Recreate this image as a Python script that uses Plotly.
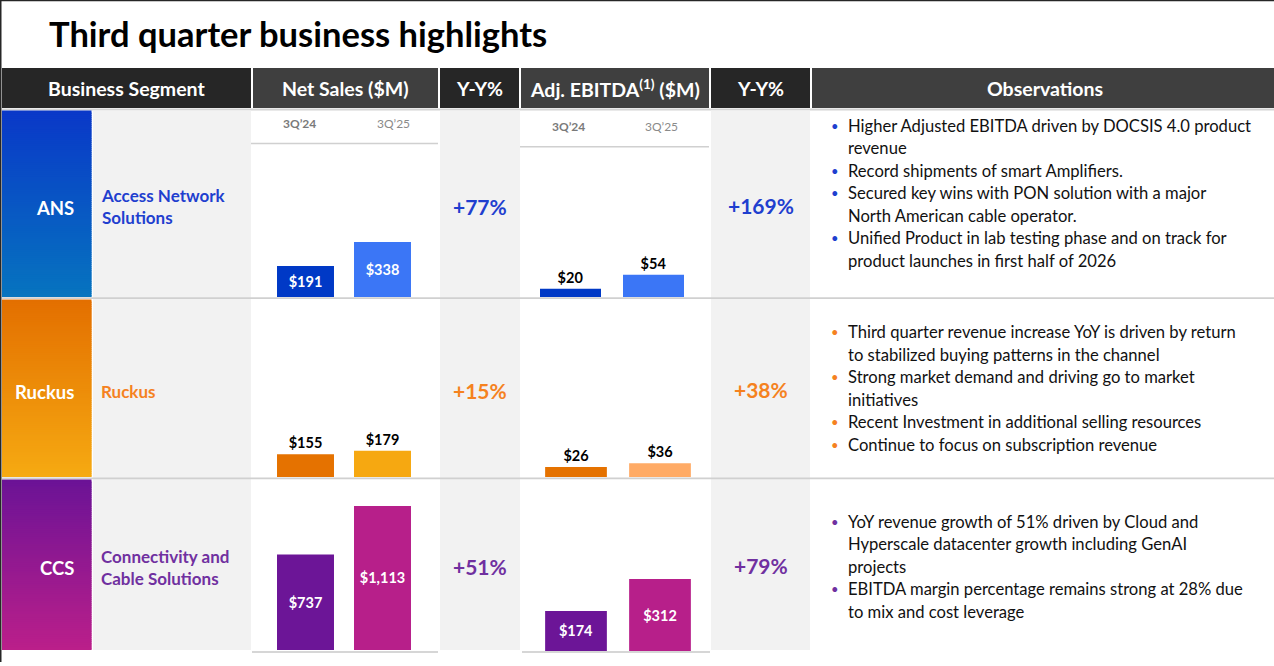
import plotly.graph_objects as go

# ---------------- data ----------------
segments = ["ANS", "Ruckus", "CCS"]
segment_names = ["Access Network<br>Solutions", "Ruckus", "Connectivity and<br>Cable Solutions"]
periods = ["3Q’24", "3Q’25"]
net_sales_3q24 = [191, 155, 737]
net_sales_3q25 = [338, 179, 1113]
ebitda_3q24 = [20, 26, 174]
ebitda_3q25 = [54, 36, 312]
net_sales_yoy = ["+77%", "+15%", "+51%"]
ebitda_yoy = ["+169%", "+38%", "+79%"]
headers = ["Business Segment", "Net Sales ($M)", "Y-Y%", "Adj. EBITDA<sup>(1)</sup> ($M)", "Y-Y%", "Observations"]
title_text = "Third quarter business highlights"
observations = [
    [["Higher Adjusted EBITDA driven by DOCSIS 4.0 product", "revenue"],
     ["Record shipments of smart Amplifiers."],
     ["Secured key wins with PON solution with a major", "North American cable operator."],
     ["Unified Product in lab testing phase and on track for", "product launches in first half of 2026"]],
    [["Third quarter revenue increase YoY is driven by return", "to stabilized buying patterns in the channel"],
     ["Strong market demand and driving go to market", "initiatives"],
     ["Recent Investment in additional selling resources"],
     ["Continue to focus on subscription revenue"]],
    [["YoY revenue growth of 51% driven by Cloud and", "Hyperscale datacenter growth including GenAI", "projects"],
     ["EBITDA margin percentage remains strong at 28% due", "to mix and cost leverage"]],
]

# ---------------- style ----------------
W, H = 1274, 666
FONT = "Lato"
seg_text_colors = ["#1f3fcf", "#f5821f", "#7030a0"]
grad_top = ["#0a38c8", "#e36f00", "#6b1396"]
grad_bot = ["#0674bf", "#f6aa12", "#bb1f8a"]
sales_colors = [["#0039c6", "#3b76f6"], ["#e57200", "#f6a811"], ["#6c1597", "#b71f8a"]]
ebitda_colors = [["#0039c6", "#3b76f6"], ["#e57200", "#ffab66"], ["#6c1597", "#b71f8a"]]
row_tops = [110, 299, 479]
row_bots = [297, 477, 650]
row_mid = [207, 391, 567]
sales_text_pos = ["inside", "outside", "inside"]
ebitda_text_pos = ["outside", "outside", "inside"]
sales_ranges = [905, 1204, 1313]
ebitda_ranges = [358, 466, 742]
obs_start_y = [126, 332.3, 521.7]
LINE_H = 22.45
LPAD = 3  # annotation left padding correction


def px(x):
    return x / W


def py(y):
    return 1 - y / H


shapes = []


def rect(x0, y0, x1, y1, color):
    shapes.append(dict(type="rect", xref="paper", yref="paper", x0=px(x0), x1=px(x1),
                       y0=py(y1), y1=py(y0), fillcolor=color, line=dict(width=0), layer="below"))


def hexrgb(h):
    h = h.lstrip("#")
    return [int(h[i:i + 2], 16) for i in (0, 2, 4)]


def mix(c0, c1, t):
    a, b = hexrgb(c0), hexrgb(c1)
    return "rgb(%d,%d,%d)" % tuple(round(a[i] + (b[i] - a[i]) * t) for i in range(3))


# frame
rect(0, 0, W, 1.2, "#262626")
rect(0, 0, 1.5, 662, "#262626")

# header cells
hdr_cells = [(2, 251, "#262626"), (253, 438, "#3f3f3f"), (440, 519, "#262626"),
             (521, 709, "#3f3f3f"), (711, 810, "#262626"), (812, 1274, "#3f3f3f")]
for x0, x1, c in hdr_cells:
    rect(x0, 68, x1, 108, c)
rect(2, 108.5, W, 110.5, "#d4d4d4")

# gray panels
for x0, x1 in [(93, 251), (440, 520), (711, 810)]:
    rect(x0, 110.5, x1, 650, "#f2f2f2")

# row separators
for yy in [297.3, 477.5]:
    rect(2, yy, W, yy + 1.8, "#d0d0d0")

# gradient blocks
N = 90
for i in range(3):
    t0, b0 = row_tops[i] + 0.5, row_bots[i]
    hgt = (b0 - t0) / N
    for k in range(N):
        y0 = t0 + k * hgt
        rect(2, y0, 91.5, min(y0 + hgt + 1.5, b0), mix(grad_top[i], grad_bot[i], (k + 0.5) / N))

# lines under period labels / bottom lines
rect(251, 142.7, 438, 144.3, "#d0d0d0")
rect(520, 146, 709, 147.6, "#d0d0d0")
rect(252, 651.3, 438, 652.8, "#c8c8c8")
rect(522, 651.3, 710, 652.8, "#c8c8c8")

annotations = []


def ann(x, y, text, size, color, bold=False, xanchor="center"):
    if xanchor == "left":
        x -= LPAD
    elif xanchor == "right":
        x += LPAD
    annotations.append(dict(xref="paper", yref="paper", x=px(x), y=py(y), text=text,
                            showarrow=False, xanchor=xanchor, yanchor="middle", align="left",
                            font=dict(family=FONT, size=size, color=color,
                                      weight=("bold" if bold else "normal"))))


ann(50, 34, title_text, 34.5, "#000000", bold=True, xanchor="left")

hdr_centers = [126.5, 345.5, 479.5, 615, 760.5, 1045]
for xc, t in zip(hdr_centers, headers):
    ann(xc, 88.5, t, 19.5, "#ffffff", bold=True)

for i in range(3):
    ann(73, row_mid[i] + 1, segments[i], 18.5, "#ffffff", bold=True, xanchor="right")
    ann(102, row_mid[i], segment_names[i], 17, seg_text_colors[i], bold=True, xanchor="left")
    ann(480, row_mid[i] - 1, net_sales_yoy[i], 21, seg_text_colors[i], bold=True)
    ann(761, row_mid[i] - 1.5, ebitda_yoy[i], 21, seg_text_colors[i], bold=True)

# period labels
ann(299, 123.5, periods[0], 12, "#7a7a7a", bold=True)
ann(393, 123.5, periods[1], 12, "#8a8a8a")
ann(568, 127, periods[0], 12, "#7a7a7a", bold=True)
ann(661.5, 127, periods[1], 12, "#8a8a8a")

# observations
for i in range(3):
    y = obs_start_y[i]
    for bullet in observations[i]:
        ann(835, y, "•", 13, seg_text_colors[i])
        for line in bullet:
            ann(849, y, line, 16.6, "#111111", xanchor="left")
            y += LINE_H

# ---------------- bars ----------------
fig = go.Figure()
sales_xdom = (267, 421)
ebitda_xdoms = [(529, 695), (534, 702), (534, 702)]
ydoms = [(150, 297), (300, 477), (480, 650)]
ydoms_e = [(150, 297), (300, 477), (480, 651)]

layout_axes = {}
ax = 2
for i in range(3):
    for m in range(2):
        if m == 0:
            vals = [net_sales_3q24[i], net_sales_3q25[i]]
            cols = sales_colors[i]
            pos = sales_text_pos[i]
            xd = sales_xdom
            yd = ydoms[i]
            rng = sales_ranges[i]
            width = 0.74
        else:
            vals = [ebitda_3q24[i], ebitda_3q25[i]]
            cols = ebitda_colors[i]
            pos = ebitda_text_pos[i]
            xd = ebitda_xdoms[i]
            yd = ydoms_e[i]
            rng = ebitda_ranges[i]
            width = 0.735
        tcol = "#ffffff" if pos == "inside" else "#000000"
        fig.add_trace(go.Bar(
            x=periods, y=vals, marker=dict(color=cols, line=dict(width=0)), width=width,
            texttemplate="$%{y:,}", textposition=pos, insidetextanchor="middle",
            textfont=dict(family=FONT, size=14.5, color=tcol, weight="bold"),
            constraintext="none", cliponaxis=False, showlegend=False, hoverinfo="skip",
            xaxis="x%d" % ax, yaxis="y%d" % ax))
        layout_axes["xaxis%d" % ax] = dict(domain=[px(xd[0]), px(xd[1])], range=[-0.5, 1.5],
                                           type="category", visible=False, fixedrange=True,
                                           anchor="y%d" % ax)
        layout_axes["yaxis%d" % ax] = dict(domain=[py(yd[1]), py(yd[0])], range=[0, rng],
                                           visible=False, fixedrange=True, anchor="x%d" % ax)
        ax += 1

fig.update_layout(
    width=W, height=H, margin=dict(l=0, r=0, t=0, b=0),
    paper_bgcolor="#ffffff", plot_bgcolor="rgba(0,0,0,0)",
    shapes=shapes, annotations=annotations, showlegend=False,
    font=dict(family=FONT), **layout_axes)

fig.write_html("out.html", config={"displayModeBar": False})
